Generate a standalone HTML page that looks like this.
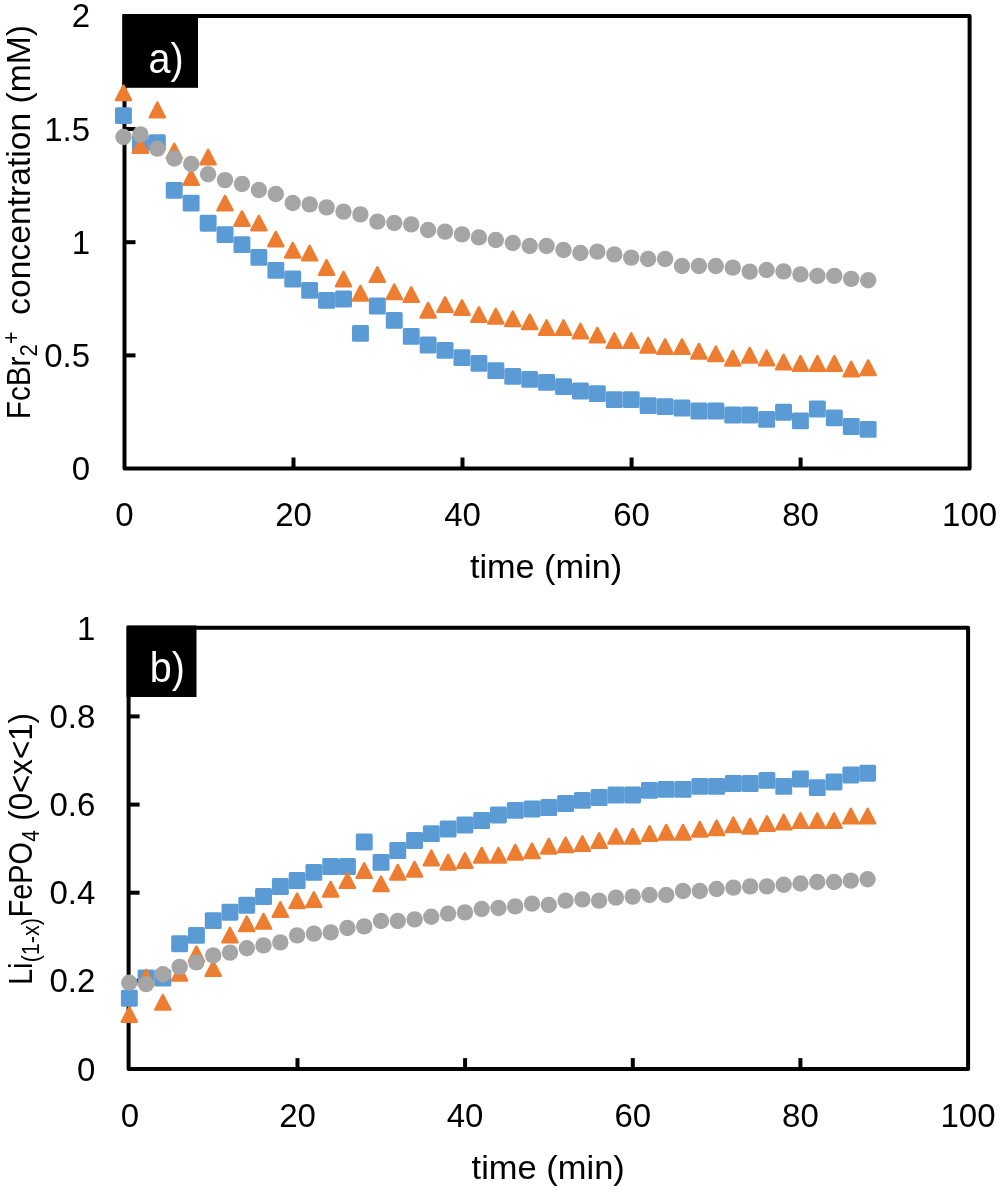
<!DOCTYPE html>
<html><head><meta charset="utf-8"><style>
html,body{margin:0;padding:0;background:#fff;}
svg{display:block;filter:blur(0.4px);}
.t{font-family:"Liberation Sans",sans-serif;font-size:33px;fill:#000;}
.lab{font-family:"Liberation Sans",sans-serif;font-size:43px;fill:#fff;}
</style></head><body>
<svg width="1000" height="1189" viewBox="0 0 1000 1189">
<path d="M124.5 15.9H969.6V468.5H124.5Z" fill="none" stroke="#000" stroke-width="4.0" stroke-linejoin="round"/>
<path d="M293.5 468.5V457.5" stroke="#000" stroke-width="4.0"/>
<path d="M462.5 468.5V457.5" stroke="#000" stroke-width="4.0"/>
<path d="M631.6 468.5V457.5" stroke="#000" stroke-width="4.0"/>
<path d="M800.6 468.5V457.5" stroke="#000" stroke-width="4.0"/>
<path d="M124.5 355.4H135.5" stroke="#000" stroke-width="4.0"/>
<path d="M124.5 242.2H135.5" stroke="#000" stroke-width="4.0"/>
<path d="M124.5 129.0H135.5" stroke="#000" stroke-width="4.0"/>
<text x="90.1" y="480.0" text-anchor="end" class="t">0</text>
<text x="90.1" y="366.9" text-anchor="end" class="t">0.5</text>
<text x="90.1" y="253.7" text-anchor="end" class="t">1</text>
<text x="90.1" y="140.5" text-anchor="end" class="t">1.5</text>
<text x="90.1" y="27.4" text-anchor="end" class="t">2</text>
<text x="124.5" y="526.0" text-anchor="middle" class="t">0</text>
<text x="293.5" y="526.0" text-anchor="middle" class="t">20</text>
<text x="462.5" y="526.0" text-anchor="middle" class="t">40</text>
<text x="631.6" y="526.0" text-anchor="middle" class="t">60</text>
<text x="800.6" y="526.0" text-anchor="middle" class="t">80</text>
<text x="969.6" y="526.0" text-anchor="middle" class="t">100</text>
<path d="M128.6 627.7H968.1V1069.1H128.6Z" fill="none" stroke="#000" stroke-width="4.0" stroke-linejoin="round"/>
<path d="M297.5 1069.1V1058.1" stroke="#000" stroke-width="4.0"/>
<path d="M465.1 1069.1V1058.1" stroke="#000" stroke-width="4.0"/>
<path d="M632.8 1069.1V1058.1" stroke="#000" stroke-width="4.0"/>
<path d="M800.4 1069.1V1058.1" stroke="#000" stroke-width="4.0"/>
<path d="M128.6 980.9H139.6" stroke="#000" stroke-width="4.0"/>
<path d="M128.6 892.7H139.6" stroke="#000" stroke-width="4.0"/>
<path d="M128.6 804.6H139.6" stroke="#000" stroke-width="4.0"/>
<path d="M128.6 716.4H139.6" stroke="#000" stroke-width="4.0"/>
<text x="95.3" y="1080.6" text-anchor="end" class="t">0</text>
<text x="95.3" y="992.4" text-anchor="end" class="t">0.2</text>
<text x="95.3" y="904.2" text-anchor="end" class="t">0.4</text>
<text x="95.3" y="816.1" text-anchor="end" class="t">0.6</text>
<text x="95.3" y="727.9" text-anchor="end" class="t">0.8</text>
<text x="95.3" y="639.7" text-anchor="end" class="t">1</text>
<text x="129.9" y="1126.6" text-anchor="middle" class="t">0</text>
<text x="297.5" y="1126.6" text-anchor="middle" class="t">20</text>
<text x="465.1" y="1126.6" text-anchor="middle" class="t">40</text>
<text x="632.8" y="1126.6" text-anchor="middle" class="t">60</text>
<text x="800.4" y="1126.6" text-anchor="middle" class="t">80</text>
<text x="968.0" y="1126.6" text-anchor="middle" class="t">100</text>
<rect x="122.3" y="14" width="75.7" height="73.8" fill="#000"/>
<text transform="translate(166 73) scale(0.92 1)" text-anchor="middle" class="lab">a)</text>
<rect x="126.5" y="625.5" width="70" height="71.5" fill="#000"/>
<text transform="translate(167.3 681.5) scale(0.92 1)" text-anchor="middle" class="lab">b)</text>
<rect x="115.0" y="107.2" width="16.9" height="16.9" rx="1.6" fill="#5B9BD5"/>
<rect x="132.0" y="135.1" width="16.9" height="16.9" rx="1.6" fill="#5B9BD5"/>
<rect x="148.9" y="134.2" width="16.9" height="16.9" rx="1.6" fill="#5B9BD5"/>
<rect x="165.8" y="181.9" width="16.9" height="16.9" rx="1.6" fill="#5B9BD5"/>
<rect x="182.7" y="194.7" width="16.9" height="16.9" rx="1.6" fill="#5B9BD5"/>
<rect x="199.7" y="214.8" width="16.9" height="16.9" rx="1.6" fill="#5B9BD5"/>
<rect x="216.6" y="226.2" width="16.9" height="16.9" rx="1.6" fill="#5B9BD5"/>
<rect x="233.5" y="236.2" width="16.9" height="16.9" rx="1.6" fill="#5B9BD5"/>
<rect x="250.4" y="248.9" width="16.9" height="16.9" rx="1.6" fill="#5B9BD5"/>
<rect x="267.4" y="261.9" width="16.9" height="16.9" rx="1.6" fill="#5B9BD5"/>
<rect x="284.3" y="270.6" width="16.9" height="16.9" rx="1.6" fill="#5B9BD5"/>
<rect x="301.2" y="281.9" width="16.9" height="16.9" rx="1.6" fill="#5B9BD5"/>
<rect x="318.1" y="291.9" width="16.9" height="16.9" rx="1.6" fill="#5B9BD5"/>
<rect x="335.1" y="290.6" width="16.9" height="16.9" rx="1.6" fill="#5B9BD5"/>
<rect x="352.0" y="324.9" width="16.9" height="16.9" rx="1.6" fill="#5B9BD5"/>
<rect x="368.9" y="297.6" width="16.9" height="16.9" rx="1.6" fill="#5B9BD5"/>
<rect x="385.8" y="311.9" width="16.9" height="16.9" rx="1.6" fill="#5B9BD5"/>
<rect x="402.8" y="327.9" width="16.9" height="16.9" rx="1.6" fill="#5B9BD5"/>
<rect x="419.7" y="336.6" width="16.9" height="16.9" rx="1.6" fill="#5B9BD5"/>
<rect x="436.6" y="341.9" width="16.9" height="16.9" rx="1.6" fill="#5B9BD5"/>
<rect x="453.5" y="349.2" width="16.9" height="16.9" rx="1.6" fill="#5B9BD5"/>
<rect x="470.5" y="354.9" width="16.9" height="16.9" rx="1.6" fill="#5B9BD5"/>
<rect x="487.4" y="362.2" width="16.9" height="16.9" rx="1.6" fill="#5B9BD5"/>
<rect x="504.3" y="367.9" width="16.9" height="16.9" rx="1.6" fill="#5B9BD5"/>
<rect x="521.2" y="370.9" width="16.9" height="16.9" rx="1.6" fill="#5B9BD5"/>
<rect x="538.1" y="373.9" width="16.9" height="16.9" rx="1.6" fill="#5B9BD5"/>
<rect x="555.1" y="378.2" width="16.9" height="16.9" rx="1.6" fill="#5B9BD5"/>
<rect x="572.0" y="382.6" width="16.9" height="16.9" rx="1.6" fill="#5B9BD5"/>
<rect x="588.9" y="385.2" width="16.9" height="16.9" rx="1.6" fill="#5B9BD5"/>
<rect x="605.8" y="391.2" width="16.9" height="16.9" rx="1.6" fill="#5B9BD5"/>
<rect x="622.8" y="391.2" width="16.9" height="16.9" rx="1.6" fill="#5B9BD5"/>
<rect x="639.7" y="397.2" width="16.9" height="16.9" rx="1.6" fill="#5B9BD5"/>
<rect x="656.6" y="398.2" width="16.9" height="16.9" rx="1.6" fill="#5B9BD5"/>
<rect x="673.5" y="399.6" width="16.9" height="16.9" rx="1.6" fill="#5B9BD5"/>
<rect x="690.5" y="402.6" width="16.9" height="16.9" rx="1.6" fill="#5B9BD5"/>
<rect x="707.4" y="402.6" width="16.9" height="16.9" rx="1.6" fill="#5B9BD5"/>
<rect x="724.3" y="406.6" width="16.9" height="16.9" rx="1.6" fill="#5B9BD5"/>
<rect x="741.2" y="406.6" width="16.9" height="16.9" rx="1.6" fill="#5B9BD5"/>
<rect x="758.2" y="410.9" width="16.9" height="16.9" rx="1.6" fill="#5B9BD5"/>
<rect x="775.1" y="403.8" width="16.9" height="16.9" rx="1.6" fill="#5B9BD5"/>
<rect x="792.0" y="412.4" width="16.9" height="16.9" rx="1.6" fill="#5B9BD5"/>
<rect x="808.9" y="400.6" width="16.9" height="16.9" rx="1.6" fill="#5B9BD5"/>
<rect x="825.9" y="409.4" width="16.9" height="16.9" rx="1.6" fill="#5B9BD5"/>
<rect x="842.8" y="418.1" width="16.9" height="16.9" rx="1.6" fill="#5B9BD5"/>
<rect x="859.7" y="420.9" width="16.9" height="16.9" rx="1.6" fill="#5B9BD5"/>
<path d="M123.50 85.50L131.10 100.10L115.90 100.10Z" fill="#ED7D31" stroke="#ED7D31" stroke-width="2.4" stroke-linejoin="round"/>
<path d="M140.42 138.30L148.02 152.90L132.82 152.90Z" fill="#ED7D31" stroke="#ED7D31" stroke-width="2.4" stroke-linejoin="round"/>
<path d="M157.35 102.60L164.95 117.20L149.75 117.20Z" fill="#ED7D31" stroke="#ED7D31" stroke-width="2.4" stroke-linejoin="round"/>
<path d="M174.27 143.70L181.87 158.30L166.67 158.30Z" fill="#ED7D31" stroke="#ED7D31" stroke-width="2.4" stroke-linejoin="round"/>
<path d="M191.20 170.20L198.80 184.80L183.60 184.80Z" fill="#ED7D31" stroke="#ED7D31" stroke-width="2.4" stroke-linejoin="round"/>
<path d="M208.12 149.80L215.72 164.40L200.52 164.40Z" fill="#ED7D31" stroke="#ED7D31" stroke-width="2.4" stroke-linejoin="round"/>
<path d="M225.04 195.80L232.64 210.40L217.44 210.40Z" fill="#ED7D31" stroke="#ED7D31" stroke-width="2.4" stroke-linejoin="round"/>
<path d="M241.97 211.30L249.57 225.90L234.37 225.90Z" fill="#ED7D31" stroke="#ED7D31" stroke-width="2.4" stroke-linejoin="round"/>
<path d="M258.89 215.70L266.49 230.30L251.29 230.30Z" fill="#ED7D31" stroke="#ED7D31" stroke-width="2.4" stroke-linejoin="round"/>
<path d="M275.82 231.70L283.42 246.30L268.22 246.30Z" fill="#ED7D31" stroke="#ED7D31" stroke-width="2.4" stroke-linejoin="round"/>
<path d="M292.74 242.90L300.34 257.50L285.14 257.50Z" fill="#ED7D31" stroke="#ED7D31" stroke-width="2.4" stroke-linejoin="round"/>
<path d="M309.66 245.70L317.26 260.30L302.06 260.30Z" fill="#ED7D31" stroke="#ED7D31" stroke-width="2.4" stroke-linejoin="round"/>
<path d="M326.59 260.10L334.19 274.70L318.99 274.70Z" fill="#ED7D31" stroke="#ED7D31" stroke-width="2.4" stroke-linejoin="round"/>
<path d="M343.51 271.70L351.11 286.30L335.91 286.30Z" fill="#ED7D31" stroke="#ED7D31" stroke-width="2.4" stroke-linejoin="round"/>
<path d="M360.44 285.90L368.04 300.50L352.84 300.50Z" fill="#ED7D31" stroke="#ED7D31" stroke-width="2.4" stroke-linejoin="round"/>
<path d="M377.36 267.30L384.96 281.90L369.76 281.90Z" fill="#ED7D31" stroke="#ED7D31" stroke-width="2.4" stroke-linejoin="round"/>
<path d="M394.28 284.50L401.88 299.10L386.68 299.10Z" fill="#ED7D31" stroke="#ED7D31" stroke-width="2.4" stroke-linejoin="round"/>
<path d="M411.21 287.30L418.81 301.90L403.61 301.90Z" fill="#ED7D31" stroke="#ED7D31" stroke-width="2.4" stroke-linejoin="round"/>
<path d="M428.13 302.90L435.73 317.50L420.53 317.50Z" fill="#ED7D31" stroke="#ED7D31" stroke-width="2.4" stroke-linejoin="round"/>
<path d="M445.06 297.30L452.66 311.90L437.46 311.90Z" fill="#ED7D31" stroke="#ED7D31" stroke-width="2.4" stroke-linejoin="round"/>
<path d="M461.98 300.30L469.58 314.90L454.38 314.90Z" fill="#ED7D31" stroke="#ED7D31" stroke-width="2.4" stroke-linejoin="round"/>
<path d="M478.90 307.30L486.50 321.90L471.30 321.90Z" fill="#ED7D31" stroke="#ED7D31" stroke-width="2.4" stroke-linejoin="round"/>
<path d="M495.83 308.90L503.43 323.50L488.23 323.50Z" fill="#ED7D31" stroke="#ED7D31" stroke-width="2.4" stroke-linejoin="round"/>
<path d="M512.75 311.50L520.35 326.10L505.15 326.10Z" fill="#ED7D31" stroke="#ED7D31" stroke-width="2.4" stroke-linejoin="round"/>
<path d="M529.68 314.50L537.28 329.10L522.08 329.10Z" fill="#ED7D31" stroke="#ED7D31" stroke-width="2.4" stroke-linejoin="round"/>
<path d="M546.60 320.30L554.20 334.90L539.00 334.90Z" fill="#ED7D31" stroke="#ED7D31" stroke-width="2.4" stroke-linejoin="round"/>
<path d="M563.52 320.30L571.12 334.90L555.92 334.90Z" fill="#ED7D31" stroke="#ED7D31" stroke-width="2.4" stroke-linejoin="round"/>
<path d="M580.45 323.70L588.05 338.30L572.85 338.30Z" fill="#ED7D31" stroke="#ED7D31" stroke-width="2.4" stroke-linejoin="round"/>
<path d="M597.37 327.70L604.97 342.30L589.77 342.30Z" fill="#ED7D31" stroke="#ED7D31" stroke-width="2.4" stroke-linejoin="round"/>
<path d="M614.30 333.30L621.90 347.90L606.70 347.90Z" fill="#ED7D31" stroke="#ED7D31" stroke-width="2.4" stroke-linejoin="round"/>
<path d="M631.22 333.30L638.82 347.90L623.62 347.90Z" fill="#ED7D31" stroke="#ED7D31" stroke-width="2.4" stroke-linejoin="round"/>
<path d="M648.14 337.90L655.74 352.50L640.54 352.50Z" fill="#ED7D31" stroke="#ED7D31" stroke-width="2.4" stroke-linejoin="round"/>
<path d="M665.07 339.30L672.67 353.90L657.47 353.90Z" fill="#ED7D31" stroke="#ED7D31" stroke-width="2.4" stroke-linejoin="round"/>
<path d="M681.99 339.30L689.59 353.90L674.39 353.90Z" fill="#ED7D31" stroke="#ED7D31" stroke-width="2.4" stroke-linejoin="round"/>
<path d="M698.92 343.90L706.52 358.50L691.32 358.50Z" fill="#ED7D31" stroke="#ED7D31" stroke-width="2.4" stroke-linejoin="round"/>
<path d="M715.84 346.50L723.44 361.10L708.24 361.10Z" fill="#ED7D31" stroke="#ED7D31" stroke-width="2.4" stroke-linejoin="round"/>
<path d="M732.76 350.90L740.36 365.50L725.16 365.50Z" fill="#ED7D31" stroke="#ED7D31" stroke-width="2.4" stroke-linejoin="round"/>
<path d="M749.69 347.90L757.29 362.50L742.09 362.50Z" fill="#ED7D31" stroke="#ED7D31" stroke-width="2.4" stroke-linejoin="round"/>
<path d="M766.61 350.60L774.21 365.20L759.01 365.20Z" fill="#ED7D31" stroke="#ED7D31" stroke-width="2.4" stroke-linejoin="round"/>
<path d="M783.54 354.70L791.14 369.30L775.94 369.30Z" fill="#ED7D31" stroke="#ED7D31" stroke-width="2.4" stroke-linejoin="round"/>
<path d="M800.46 356.10L808.06 370.70L792.86 370.70Z" fill="#ED7D31" stroke="#ED7D31" stroke-width="2.4" stroke-linejoin="round"/>
<path d="M817.38 356.10L824.98 370.70L809.78 370.70Z" fill="#ED7D31" stroke="#ED7D31" stroke-width="2.4" stroke-linejoin="round"/>
<path d="M834.31 356.10L841.91 370.70L826.71 370.70Z" fill="#ED7D31" stroke="#ED7D31" stroke-width="2.4" stroke-linejoin="round"/>
<path d="M851.23 361.80L858.83 376.40L843.63 376.40Z" fill="#ED7D31" stroke="#ED7D31" stroke-width="2.4" stroke-linejoin="round"/>
<path d="M868.16 360.40L875.76 375.00L860.56 375.00Z" fill="#ED7D31" stroke="#ED7D31" stroke-width="2.4" stroke-linejoin="round"/>
<circle cx="123.5" cy="137.0" r="8.2" fill="#A5A5A5"/>
<circle cx="140.4" cy="134.4" r="8.2" fill="#A5A5A5"/>
<circle cx="157.3" cy="148.6" r="8.2" fill="#A5A5A5"/>
<circle cx="174.3" cy="158.5" r="8.2" fill="#A5A5A5"/>
<circle cx="191.2" cy="164.0" r="8.2" fill="#A5A5A5"/>
<circle cx="208.1" cy="174.3" r="8.2" fill="#A5A5A5"/>
<circle cx="225.0" cy="180.1" r="8.2" fill="#A5A5A5"/>
<circle cx="242.0" cy="184.0" r="8.2" fill="#A5A5A5"/>
<circle cx="258.9" cy="190.0" r="8.2" fill="#A5A5A5"/>
<circle cx="275.8" cy="194.0" r="8.2" fill="#A5A5A5"/>
<circle cx="292.7" cy="203.0" r="8.2" fill="#A5A5A5"/>
<circle cx="309.7" cy="204.4" r="8.2" fill="#A5A5A5"/>
<circle cx="326.6" cy="207.4" r="8.2" fill="#A5A5A5"/>
<circle cx="343.5" cy="211.6" r="8.2" fill="#A5A5A5"/>
<circle cx="360.4" cy="214.4" r="8.2" fill="#A5A5A5"/>
<circle cx="377.4" cy="221.6" r="8.2" fill="#A5A5A5"/>
<circle cx="394.3" cy="223.0" r="8.2" fill="#A5A5A5"/>
<circle cx="411.2" cy="224.4" r="8.2" fill="#A5A5A5"/>
<circle cx="428.1" cy="230.0" r="8.2" fill="#A5A5A5"/>
<circle cx="445.1" cy="231.6" r="8.2" fill="#A5A5A5"/>
<circle cx="462.0" cy="234.4" r="8.2" fill="#A5A5A5"/>
<circle cx="478.9" cy="237.4" r="8.2" fill="#A5A5A5"/>
<circle cx="495.8" cy="240.0" r="8.2" fill="#A5A5A5"/>
<circle cx="512.8" cy="243.0" r="8.2" fill="#A5A5A5"/>
<circle cx="529.7" cy="246.0" r="8.2" fill="#A5A5A5"/>
<circle cx="546.6" cy="246.0" r="8.2" fill="#A5A5A5"/>
<circle cx="563.5" cy="250.0" r="8.2" fill="#A5A5A5"/>
<circle cx="580.4" cy="253.0" r="8.2" fill="#A5A5A5"/>
<circle cx="597.4" cy="251.6" r="8.2" fill="#A5A5A5"/>
<circle cx="614.3" cy="254.4" r="8.2" fill="#A5A5A5"/>
<circle cx="631.2" cy="257.6" r="8.2" fill="#A5A5A5"/>
<circle cx="648.1" cy="259.0" r="8.2" fill="#A5A5A5"/>
<circle cx="665.1" cy="259.0" r="8.2" fill="#A5A5A5"/>
<circle cx="682.0" cy="266.0" r="8.2" fill="#A5A5A5"/>
<circle cx="698.9" cy="266.0" r="8.2" fill="#A5A5A5"/>
<circle cx="715.8" cy="266.0" r="8.2" fill="#A5A5A5"/>
<circle cx="732.8" cy="267.6" r="8.2" fill="#A5A5A5"/>
<circle cx="749.7" cy="271.6" r="8.2" fill="#A5A5A5"/>
<circle cx="766.6" cy="270.0" r="8.2" fill="#A5A5A5"/>
<circle cx="783.5" cy="271.4" r="8.2" fill="#A5A5A5"/>
<circle cx="800.5" cy="274.4" r="8.2" fill="#A5A5A5"/>
<circle cx="817.4" cy="275.9" r="8.2" fill="#A5A5A5"/>
<circle cx="834.3" cy="275.9" r="8.2" fill="#A5A5A5"/>
<circle cx="851.2" cy="278.9" r="8.2" fill="#A5A5A5"/>
<circle cx="868.2" cy="280.3" r="8.2" fill="#A5A5A5"/>
<rect x="120.9" y="989.8" width="16.9" height="16.9" rx="1.6" fill="#5B9BD5"/>
<rect x="137.6" y="969.6" width="16.9" height="16.9" rx="1.6" fill="#5B9BD5"/>
<rect x="154.4" y="969.6" width="16.9" height="16.9" rx="1.6" fill="#5B9BD5"/>
<rect x="171.2" y="935.3" width="16.9" height="16.9" rx="1.6" fill="#5B9BD5"/>
<rect x="188.0" y="926.9" width="16.9" height="16.9" rx="1.6" fill="#5B9BD5"/>
<rect x="204.8" y="912.2" width="16.9" height="16.9" rx="1.6" fill="#5B9BD5"/>
<rect x="221.5" y="903.8" width="16.9" height="16.9" rx="1.6" fill="#5B9BD5"/>
<rect x="238.3" y="896.8" width="16.9" height="16.9" rx="1.6" fill="#5B9BD5"/>
<rect x="255.1" y="888.1" width="16.9" height="16.9" rx="1.6" fill="#5B9BD5"/>
<rect x="271.9" y="878.1" width="16.9" height="16.9" rx="1.6" fill="#5B9BD5"/>
<rect x="288.7" y="872.1" width="16.9" height="16.9" rx="1.6" fill="#5B9BD5"/>
<rect x="305.4" y="863.9" width="16.9" height="16.9" rx="1.6" fill="#5B9BD5"/>
<rect x="322.2" y="858.1" width="16.9" height="16.9" rx="1.6" fill="#5B9BD5"/>
<rect x="339.0" y="858.1" width="16.9" height="16.9" rx="1.6" fill="#5B9BD5"/>
<rect x="355.8" y="833.5" width="16.9" height="16.9" rx="1.6" fill="#5B9BD5"/>
<rect x="372.6" y="853.9" width="16.9" height="16.9" rx="1.6" fill="#5B9BD5"/>
<rect x="389.3" y="842.1" width="16.9" height="16.9" rx="1.6" fill="#5B9BD5"/>
<rect x="406.1" y="832.1" width="16.9" height="16.9" rx="1.6" fill="#5B9BD5"/>
<rect x="422.9" y="825.2" width="16.9" height="16.9" rx="1.6" fill="#5B9BD5"/>
<rect x="439.7" y="820.5" width="16.9" height="16.9" rx="1.6" fill="#5B9BD5"/>
<rect x="456.5" y="816.5" width="16.9" height="16.9" rx="1.6" fill="#5B9BD5"/>
<rect x="473.2" y="812.1" width="16.9" height="16.9" rx="1.6" fill="#5B9BD5"/>
<rect x="490.0" y="806.5" width="16.9" height="16.9" rx="1.6" fill="#5B9BD5"/>
<rect x="506.8" y="801.9" width="16.9" height="16.9" rx="1.6" fill="#5B9BD5"/>
<rect x="523.6" y="800.5" width="16.9" height="16.9" rx="1.6" fill="#5B9BD5"/>
<rect x="540.3" y="799.1" width="16.9" height="16.9" rx="1.6" fill="#5B9BD5"/>
<rect x="557.1" y="795.1" width="16.9" height="16.9" rx="1.6" fill="#5B9BD5"/>
<rect x="573.9" y="791.9" width="16.9" height="16.9" rx="1.6" fill="#5B9BD5"/>
<rect x="590.7" y="789.1" width="16.9" height="16.9" rx="1.6" fill="#5B9BD5"/>
<rect x="607.5" y="786.5" width="16.9" height="16.9" rx="1.6" fill="#5B9BD5"/>
<rect x="624.2" y="786.5" width="16.9" height="16.9" rx="1.6" fill="#5B9BD5"/>
<rect x="641.0" y="781.9" width="16.9" height="16.9" rx="1.6" fill="#5B9BD5"/>
<rect x="657.8" y="780.9" width="16.9" height="16.9" rx="1.6" fill="#5B9BD5"/>
<rect x="674.6" y="780.9" width="16.9" height="16.9" rx="1.6" fill="#5B9BD5"/>
<rect x="691.4" y="777.9" width="16.9" height="16.9" rx="1.6" fill="#5B9BD5"/>
<rect x="708.2" y="777.9" width="16.9" height="16.9" rx="1.6" fill="#5B9BD5"/>
<rect x="724.9" y="775.1" width="16.9" height="16.9" rx="1.6" fill="#5B9BD5"/>
<rect x="741.7" y="775.1" width="16.9" height="16.9" rx="1.6" fill="#5B9BD5"/>
<rect x="758.5" y="771.9" width="16.9" height="16.9" rx="1.6" fill="#5B9BD5"/>
<rect x="775.3" y="777.9" width="16.9" height="16.9" rx="1.6" fill="#5B9BD5"/>
<rect x="792.0" y="770.5" width="16.9" height="16.9" rx="1.6" fill="#5B9BD5"/>
<rect x="808.8" y="779.2" width="16.9" height="16.9" rx="1.6" fill="#5B9BD5"/>
<rect x="825.6" y="773.5" width="16.9" height="16.9" rx="1.6" fill="#5B9BD5"/>
<rect x="842.4" y="766.5" width="16.9" height="16.9" rx="1.6" fill="#5B9BD5"/>
<rect x="859.2" y="764.8" width="16.9" height="16.9" rx="1.6" fill="#5B9BD5"/>
<path d="M129.30 1007.20L136.90 1021.80L121.70 1021.80Z" fill="#ED7D31" stroke="#ED7D31" stroke-width="2.4" stroke-linejoin="round"/>
<path d="M146.08 969.70L153.68 984.30L138.48 984.30Z" fill="#ED7D31" stroke="#ED7D31" stroke-width="2.4" stroke-linejoin="round"/>
<path d="M162.86 995.00L170.46 1009.60L155.26 1009.60Z" fill="#ED7D31" stroke="#ED7D31" stroke-width="2.4" stroke-linejoin="round"/>
<path d="M179.64 965.90L187.24 980.50L172.04 980.50Z" fill="#ED7D31" stroke="#ED7D31" stroke-width="2.4" stroke-linejoin="round"/>
<path d="M196.42 946.50L204.02 961.10L188.82 961.10Z" fill="#ED7D31" stroke="#ED7D31" stroke-width="2.4" stroke-linejoin="round"/>
<path d="M213.20 961.30L220.80 975.90L205.60 975.90Z" fill="#ED7D31" stroke="#ED7D31" stroke-width="2.4" stroke-linejoin="round"/>
<path d="M229.98 927.80L237.58 942.40L222.38 942.40Z" fill="#ED7D31" stroke="#ED7D31" stroke-width="2.4" stroke-linejoin="round"/>
<path d="M246.76 916.50L254.36 931.10L239.16 931.10Z" fill="#ED7D31" stroke="#ED7D31" stroke-width="2.4" stroke-linejoin="round"/>
<path d="M263.54 913.90L271.14 928.50L255.94 928.50Z" fill="#ED7D31" stroke="#ED7D31" stroke-width="2.4" stroke-linejoin="round"/>
<path d="M280.32 902.30L287.92 916.90L272.72 916.90Z" fill="#ED7D31" stroke="#ED7D31" stroke-width="2.4" stroke-linejoin="round"/>
<path d="M297.10 893.50L304.70 908.10L289.50 908.10Z" fill="#ED7D31" stroke="#ED7D31" stroke-width="2.4" stroke-linejoin="round"/>
<path d="M313.88 892.30L321.48 906.90L306.28 906.90Z" fill="#ED7D31" stroke="#ED7D31" stroke-width="2.4" stroke-linejoin="round"/>
<path d="M330.66 881.90L338.26 896.50L323.06 896.50Z" fill="#ED7D31" stroke="#ED7D31" stroke-width="2.4" stroke-linejoin="round"/>
<path d="M347.44 873.30L355.04 887.90L339.84 887.90Z" fill="#ED7D31" stroke="#ED7D31" stroke-width="2.4" stroke-linejoin="round"/>
<path d="M364.22 863.30L371.82 877.90L356.62 877.90Z" fill="#ED7D31" stroke="#ED7D31" stroke-width="2.4" stroke-linejoin="round"/>
<path d="M381.00 876.50L388.60 891.10L373.40 891.10Z" fill="#ED7D31" stroke="#ED7D31" stroke-width="2.4" stroke-linejoin="round"/>
<path d="M397.78 864.90L405.38 879.50L390.18 879.50Z" fill="#ED7D31" stroke="#ED7D31" stroke-width="2.4" stroke-linejoin="round"/>
<path d="M414.56 861.90L422.16 876.50L406.96 876.50Z" fill="#ED7D31" stroke="#ED7D31" stroke-width="2.4" stroke-linejoin="round"/>
<path d="M431.34 850.60L438.94 865.20L423.74 865.20Z" fill="#ED7D31" stroke="#ED7D31" stroke-width="2.4" stroke-linejoin="round"/>
<path d="M448.12 854.90L455.72 869.50L440.52 869.50Z" fill="#ED7D31" stroke="#ED7D31" stroke-width="2.4" stroke-linejoin="round"/>
<path d="M464.90 853.30L472.50 867.90L457.30 867.90Z" fill="#ED7D31" stroke="#ED7D31" stroke-width="2.4" stroke-linejoin="round"/>
<path d="M481.68 847.90L489.28 862.50L474.08 862.50Z" fill="#ED7D31" stroke="#ED7D31" stroke-width="2.4" stroke-linejoin="round"/>
<path d="M498.46 847.90L506.06 862.50L490.86 862.50Z" fill="#ED7D31" stroke="#ED7D31" stroke-width="2.4" stroke-linejoin="round"/>
<path d="M515.24 844.90L522.84 859.50L507.64 859.50Z" fill="#ED7D31" stroke="#ED7D31" stroke-width="2.4" stroke-linejoin="round"/>
<path d="M532.02 843.50L539.62 858.10L524.42 858.10Z" fill="#ED7D31" stroke="#ED7D31" stroke-width="2.4" stroke-linejoin="round"/>
<path d="M548.80 838.90L556.40 853.50L541.20 853.50Z" fill="#ED7D31" stroke="#ED7D31" stroke-width="2.4" stroke-linejoin="round"/>
<path d="M565.58 837.50L573.18 852.10L557.98 852.10Z" fill="#ED7D31" stroke="#ED7D31" stroke-width="2.4" stroke-linejoin="round"/>
<path d="M582.36 836.30L589.96 850.90L574.76 850.90Z" fill="#ED7D31" stroke="#ED7D31" stroke-width="2.4" stroke-linejoin="round"/>
<path d="M599.14 833.30L606.74 847.90L591.54 847.90Z" fill="#ED7D31" stroke="#ED7D31" stroke-width="2.4" stroke-linejoin="round"/>
<path d="M615.92 828.90L623.52 843.50L608.32 843.50Z" fill="#ED7D31" stroke="#ED7D31" stroke-width="2.4" stroke-linejoin="round"/>
<path d="M632.70 828.90L640.30 843.50L625.10 843.50Z" fill="#ED7D31" stroke="#ED7D31" stroke-width="2.4" stroke-linejoin="round"/>
<path d="M649.48 826.30L657.08 840.90L641.88 840.90Z" fill="#ED7D31" stroke="#ED7D31" stroke-width="2.4" stroke-linejoin="round"/>
<path d="M666.26 824.90L673.86 839.50L658.66 839.50Z" fill="#ED7D31" stroke="#ED7D31" stroke-width="2.4" stroke-linejoin="round"/>
<path d="M683.04 824.90L690.64 839.50L675.44 839.50Z" fill="#ED7D31" stroke="#ED7D31" stroke-width="2.4" stroke-linejoin="round"/>
<path d="M699.82 821.90L707.42 836.50L692.22 836.50Z" fill="#ED7D31" stroke="#ED7D31" stroke-width="2.4" stroke-linejoin="round"/>
<path d="M716.60 820.50L724.20 835.10L709.00 835.10Z" fill="#ED7D31" stroke="#ED7D31" stroke-width="2.4" stroke-linejoin="round"/>
<path d="M733.38 817.50L740.98 832.10L725.78 832.10Z" fill="#ED7D31" stroke="#ED7D31" stroke-width="2.4" stroke-linejoin="round"/>
<path d="M750.16 818.90L757.76 833.50L742.56 833.50Z" fill="#ED7D31" stroke="#ED7D31" stroke-width="2.4" stroke-linejoin="round"/>
<path d="M766.94 816.30L774.54 830.90L759.34 830.90Z" fill="#ED7D31" stroke="#ED7D31" stroke-width="2.4" stroke-linejoin="round"/>
<path d="M783.72 814.80L791.32 829.40L776.12 829.40Z" fill="#ED7D31" stroke="#ED7D31" stroke-width="2.4" stroke-linejoin="round"/>
<path d="M800.50 813.30L808.10 827.90L792.90 827.90Z" fill="#ED7D31" stroke="#ED7D31" stroke-width="2.4" stroke-linejoin="round"/>
<path d="M817.28 813.30L824.88 827.90L809.68 827.90Z" fill="#ED7D31" stroke="#ED7D31" stroke-width="2.4" stroke-linejoin="round"/>
<path d="M834.06 813.30L841.66 827.90L826.46 827.90Z" fill="#ED7D31" stroke="#ED7D31" stroke-width="2.4" stroke-linejoin="round"/>
<path d="M850.84 808.80L858.44 823.40L843.24 823.40Z" fill="#ED7D31" stroke="#ED7D31" stroke-width="2.4" stroke-linejoin="round"/>
<path d="M867.62 808.80L875.22 823.40L860.02 823.40Z" fill="#ED7D31" stroke="#ED7D31" stroke-width="2.4" stroke-linejoin="round"/>
<circle cx="129.3" cy="982.7" r="8.2" fill="#A5A5A5"/>
<circle cx="146.1" cy="984.1" r="8.2" fill="#A5A5A5"/>
<circle cx="162.9" cy="974.3" r="8.2" fill="#A5A5A5"/>
<circle cx="179.6" cy="966.9" r="8.2" fill="#A5A5A5"/>
<circle cx="196.4" cy="962.4" r="8.2" fill="#A5A5A5"/>
<circle cx="213.2" cy="955.4" r="8.2" fill="#A5A5A5"/>
<circle cx="230.0" cy="952.6" r="8.2" fill="#A5A5A5"/>
<circle cx="246.8" cy="948.2" r="8.2" fill="#A5A5A5"/>
<circle cx="263.5" cy="945.4" r="8.2" fill="#A5A5A5"/>
<circle cx="280.3" cy="942.4" r="8.2" fill="#A5A5A5"/>
<circle cx="297.1" cy="935.4" r="8.2" fill="#A5A5A5"/>
<circle cx="313.9" cy="933.6" r="8.2" fill="#A5A5A5"/>
<circle cx="330.7" cy="932.4" r="8.2" fill="#A5A5A5"/>
<circle cx="347.4" cy="928.0" r="8.2" fill="#A5A5A5"/>
<circle cx="364.2" cy="926.4" r="8.2" fill="#A5A5A5"/>
<circle cx="381.0" cy="921.0" r="8.2" fill="#A5A5A5"/>
<circle cx="397.8" cy="921.0" r="8.2" fill="#A5A5A5"/>
<circle cx="414.6" cy="919.4" r="8.2" fill="#A5A5A5"/>
<circle cx="431.3" cy="916.8" r="8.2" fill="#A5A5A5"/>
<circle cx="448.1" cy="913.6" r="8.2" fill="#A5A5A5"/>
<circle cx="464.9" cy="912.4" r="8.2" fill="#A5A5A5"/>
<circle cx="481.7" cy="909.0" r="8.2" fill="#A5A5A5"/>
<circle cx="498.5" cy="908.0" r="8.2" fill="#A5A5A5"/>
<circle cx="515.2" cy="906.4" r="8.2" fill="#A5A5A5"/>
<circle cx="532.0" cy="903.6" r="8.2" fill="#A5A5A5"/>
<circle cx="548.8" cy="905.0" r="8.2" fill="#A5A5A5"/>
<circle cx="565.6" cy="900.6" r="8.2" fill="#A5A5A5"/>
<circle cx="582.4" cy="899.4" r="8.2" fill="#A5A5A5"/>
<circle cx="599.1" cy="900.6" r="8.2" fill="#A5A5A5"/>
<circle cx="615.9" cy="897.6" r="8.2" fill="#A5A5A5"/>
<circle cx="632.7" cy="896.6" r="8.2" fill="#A5A5A5"/>
<circle cx="649.5" cy="895.0" r="8.2" fill="#A5A5A5"/>
<circle cx="666.3" cy="895.0" r="8.2" fill="#A5A5A5"/>
<circle cx="683.0" cy="891.0" r="8.2" fill="#A5A5A5"/>
<circle cx="699.8" cy="891.0" r="8.2" fill="#A5A5A5"/>
<circle cx="716.6" cy="889.0" r="8.2" fill="#A5A5A5"/>
<circle cx="733.4" cy="887.6" r="8.2" fill="#A5A5A5"/>
<circle cx="750.2" cy="886.4" r="8.2" fill="#A5A5A5"/>
<circle cx="766.9" cy="886.4" r="8.2" fill="#A5A5A5"/>
<circle cx="783.7" cy="884.8" r="8.2" fill="#A5A5A5"/>
<circle cx="800.5" cy="883.5" r="8.2" fill="#A5A5A5"/>
<circle cx="817.3" cy="882.0" r="8.2" fill="#A5A5A5"/>
<circle cx="834.1" cy="882.0" r="8.2" fill="#A5A5A5"/>
<circle cx="850.8" cy="880.6" r="8.2" fill="#A5A5A5"/>
<circle cx="867.6" cy="879.2" r="8.2" fill="#A5A5A5"/>
<text transform="translate(29.5 420.0) rotate(-90)" class="t" xml:space="preserve"><tspan x="0.87" y="0.00" font-size="33" textLength="62.63" lengthAdjust="spacingAndGlyphs">FcBr</tspan><tspan x="63.58" y="7.50" font-size="23.5" textLength="12.33" lengthAdjust="spacingAndGlyphs">2</tspan><tspan x="75.94" y="-10.35" font-size="23.5" textLength="12.62" lengthAdjust="spacingAndGlyphs">+</tspan><tspan x="95.72" y="0.00" font-size="33" textLength="299.37" lengthAdjust="spacingAndGlyphs"> concentration (mM)</tspan></text>
<text transform="translate(32.0 990.0) rotate(-90)" class="t" xml:space="preserve"><tspan x="5.15" y="0.00" font-size="33" textLength="22.28" lengthAdjust="spacingAndGlyphs">Li</tspan><tspan x="27.66" y="7.00" font-size="23" textLength="44.38" lengthAdjust="spacingAndGlyphs">(1-x)</tspan><tspan x="72.64" y="0.00" font-size="33" textLength="75.24" lengthAdjust="spacingAndGlyphs">FePO</tspan><tspan x="148.32" y="7.00" font-size="23" textLength="11.70" lengthAdjust="spacingAndGlyphs">4</tspan><tspan x="160.57" y="0.00" font-size="33" textLength="116.47" lengthAdjust="spacingAndGlyphs"> (0&lt;x&lt;1)</tspan></text>
<text transform="translate(546 578.2) scale(1.038 1)" text-anchor="middle" class="t">time (min)</text>
<text transform="translate(548.2 1178.7) scale(1.045 1)" text-anchor="middle" class="t">time (min)</text>
</svg>
</body></html>
